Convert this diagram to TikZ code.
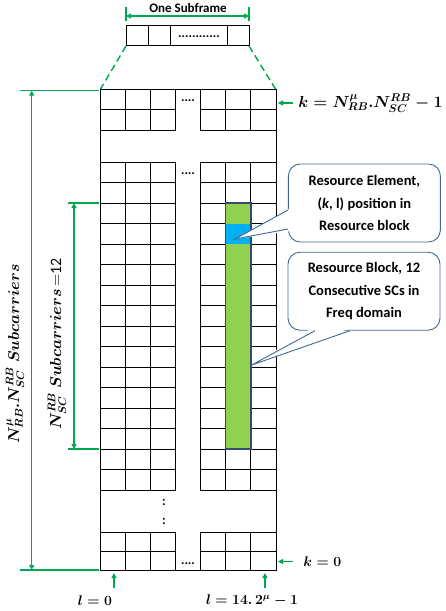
\RequirePackage{fix-cm}
\documentclass[tikz,border=0pt]{standalone}
\usepackage{fontspec}
\setmainfont{Carlito}
\usetikzlibrary{arrows.meta}
\definecolor{dimgreen}{RGB}{0,166,80}
\definecolor{rbgreen}{RGB}{146,208,80}
\definecolor{reblue}{RGB}{0,176,240}
\definecolor{rbedge}{RGB}{50,75,110}
\definecolor{calloutedge}{RGB}{65,105,150}
\begin{document}
\begin{tikzpicture}[x=1pt, y=-1pt, line width=0.8pt,
  dim/.style={dimgreen, line width=1.4pt},
  dimarrow/.style={dim, -{Triangle[length=5pt,width=5pt]}},
  dimboth/.style={dim, {Triangle[length=5pt,width=5pt]}-{Triangle[length=5pt,width=5pt]}},
  mathlab/.style={font=\fontsize{14}{16}\selectfont\boldmath, inner sep=0pt},
  biglab/.style={font=\fontsize{15.7}{18}\selectfont\boldmath, inner sep=0pt},
  dots/.style={font=\fontsize{13}{15}\selectfont\bfseries, inner sep=0pt},
  callout/.style={draw=calloutedge, fill=white, rounded corners=12pt, line width=0.9pt, minimum width=152pt, minimum height=78pt, align=center, font=\fontsize{14.5}{22.5}\selectfont\bfseries}]
  \useasboundingbox (0,0) rectangle (446,611);
  \foreach \gx in {100,200.4} {
    \foreach \ty/\nr/\rh in {89.5/2/20.25, 162/16/20.5, 532/2/19} {
      \foreach \r in {1,...,\nr} \foreach \c in {0,1,2}
        \draw (\gx+\c*25.2, \ty+\r*\rh-\rh) rectangle ++(25.2,\rh);
    }
  }
  \draw (100,89.5) rectangle (276,570);
  \fill[rbgreen] (225.6,203) rectangle (250.8,449);
  \fill[reblue] (225.6,223.5) rectangle (250.8,244);
  \draw[rbedge, line width=1.6pt] (225.6,203) rectangle (250.8,449);
  \node[dots] (dtop) at (188,101) {....};
  \node[dots] (dmid) at (188,174) {....};
  \node[dots] (dbot) at (188,564) {....};
  \node[dots] (cola) at (164,502) {:};
  \node[dots] (colb) at (164,521) {:};
  % one subframe
  \draw (126,25.7) rectangle (249,45.7);
  \foreach \x in {148.7,170.7,227.3} \draw (\x,25.7) -- (\x,45.7);
  \node[dots] (sfdots) at (199,37) {............};
  \coordinate (sfl) at (126,16);
  \coordinate (sfr) at (249,16);
  \draw[dim] (126,7) -- (126,21) (249,7) -- (249,21);
  \draw[dimboth] (sfl) -- (sfr);
  \node[font=\fontsize{13}{15}\selectfont\bfseries, inner sep=0pt] (sflab) at (188,8) {One Subframe};
  \draw[dim, dash pattern=on 7pt off 4pt] (126,46) -- (100.5,89) (249,46) -- (275.5,89);
  % left dimensions
  \draw[dim] (20,90.7) -- (99,90.7) (20,570) -- (99,570) (68,203) -- (99,203) (68,449) -- (99,449);
  \coordinate (alltop) at (31.7,90.7);
  \coordinate (allbot) at (31.7,570);
  \coordinate (rbtop) at (74,203);
  \coordinate (rbbot) at (74,449);
  \draw[dimboth] (alltop) -- (allbot);
  \draw[dimboth] (rbtop) -- (rbbot);
  \node[biglab, rotate=90] (alllab) at (15,354) {$N^{\mu}_{RB}.N^{RB}_{SC}\ Subcarriers$};
  \node[biglab, font=\fontsize{15.9}{18}\selectfont\boldmath, rotate=90] (rblab) at (57,344) {$N^{RB}_{SC}\ Subcarriers$\,\mbox{\unboldmath$=$12}};
  % k and l markers
  \coordinate (ktopa) at (293,103);
  \coordinate (ktopb) at (278,103);
  \coordinate (kbota) at (293,561.5);
  \coordinate (kbotb) at (278,561.5);
  \coordinate (lza) at (114,588);
  \coordinate (lzb) at (114,573);
  \coordinate (lma) at (265,588);
  \coordinate (lmb) at (265,573);
  \draw[dimarrow] (ktopa) -- (ktopb);
  \draw[dimarrow] (kbota) -- (kbotb);
  \draw[dimarrow] (lza) -- (lzb);
  \draw[dimarrow] (lma) -- (lmb);
  \node[biglab, font=\fontsize{16}{18}\selectfont\boldmath, anchor=west] (ktop) at (298,103) {$k = N^{\mu}_{RB}.N^{RB}_{SC} - 1$};
  \node[mathlab, anchor=west] (kzero) at (303,561.5) {$k = 0$};
  \node[mathlab] (lzero) at (95,601) {$l = 0$};
  \node[mathlab] (lmax) at (252,601) {$l = 14.\,2^{\mu} - 1$};
  % callouts
  \node[callout] (recall) at (364.4,203) {Resource Element,\\(\textit{k}, l) position in\\Resource block};
  \node[callout] (rbcall) at (364,291.2) {Resource Block, 12\\Consecutive SCs in\\Freq domain};
  \coordinate (retip) at (235,239);
  \coordinate (rea) at (288,210);
  \coordinate (reb) at (288,229);
  \fill[white] (291,208) -- (retip) -- (291,231) -- cycle;
  \draw[calloutedge, line width=0.9pt] (rea) -- (retip) -- (reb);
  \coordinate (rbtip) at (251.7,365);
  \coordinate (rba) at (315,330.7);
  \coordinate (rbb) at (350,330.7);
  \fill[white] (313,327.5) -- (rbtip) -- (352,327.5) -- cycle;
  \draw[calloutedge, line width=0.9pt] (rba) -- (rbtip) -- (rbb);
\end{tikzpicture}
\end{document}
